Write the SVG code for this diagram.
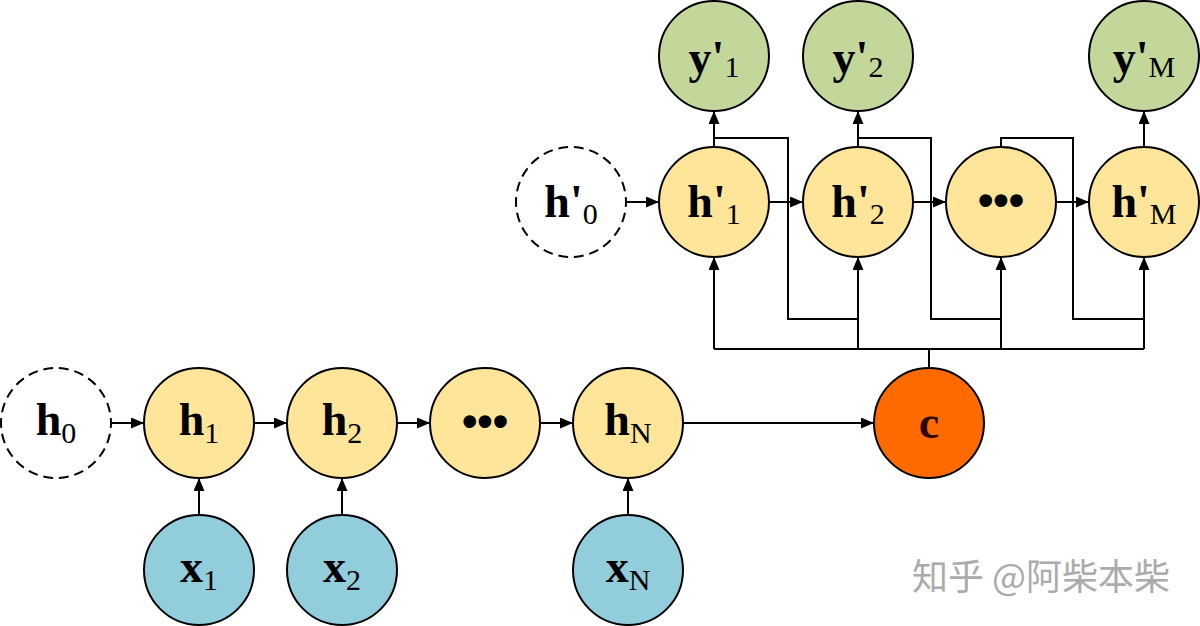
<svg xmlns="http://www.w3.org/2000/svg" width="1200" height="626" viewBox="0 0 1200 626">
<defs>
<marker id="arr" markerWidth="14" markerHeight="12" refX="13" refY="5.5" orient="auto" markerUnits="userSpaceOnUse">
<path d="M0,0 L13,5.5 L0,11 z" fill="#000"/>
</marker>
<style>
.n circle{stroke:#000;stroke-width:2}
.yl{fill:#fee599}
.gr{fill:#c4d79b}
.bl{fill:#92cddc}
.or{fill:#ff6a00}
.ds{fill:#fff;stroke-dasharray:10 6;stroke-dashoffset:5}
.t{font-family:"Liberation Serif",serif;font-weight:bold;font-size:46px;fill:#000;text-anchor:middle}
.s{font-weight:normal;font-size:30px}
.dots{font-family:"Liberation Sans",sans-serif;font-weight:bold;font-size:44px;text-anchor:middle;fill:#000}
.c line,.c path{stroke:#000;stroke-width:2;fill:none}
.wm{font-family:"Noto Sans CJK SC",sans-serif;font-size:36px;fill:#ababab}
</style>
</defs>
<rect width="1200" height="626" fill="#fff"/>
<g id="connectors" class="c">
<line x1="110" y1="423" x2="144" y2="423" marker-end="url(#arr)"/>
<line x1="254" y1="423" x2="287" y2="423" marker-end="url(#arr)"/>
<line x1="397" y1="423" x2="430" y2="423" marker-end="url(#arr)"/>
<line x1="540" y1="423" x2="573" y2="423" marker-end="url(#arr)"/>
<line x1="683" y1="423" x2="874" y2="423" marker-end="url(#arr)"/>
<line x1="199" y1="515" x2="199" y2="478" marker-end="url(#arr)"/>
<line x1="342" y1="515" x2="342" y2="478" marker-end="url(#arr)"/>
<line x1="628" y1="515" x2="628" y2="478" marker-end="url(#arr)"/>
<line x1="627" y1="202" x2="659" y2="202" marker-end="url(#arr)"/>
<line x1="769" y1="202" x2="803" y2="202" marker-end="url(#arr)"/>
<line x1="913" y1="202" x2="946" y2="202" marker-end="url(#arr)"/>
<line x1="1056" y1="202" x2="1089" y2="202" marker-end="url(#arr)"/>
<line x1="714" y1="147" x2="714" y2="111" marker-end="url(#arr)"/>
<line x1="858" y1="147" x2="858" y2="111" marker-end="url(#arr)"/>
<line x1="1144" y1="147" x2="1144" y2="111" marker-end="url(#arr)"/>
<path d="M714,138 H788 V319 H858"/>
<path d="M858,138 H931 V319 H1001"/>
<path d="M1001,147 V138 H1073 V319 H1144"/>
<path d="M929,368 V349"/>
<path d="M714,349 H1144"/>
<line x1="714" y1="349" x2="714" y2="257" marker-end="url(#arr)"/>
<line x1="858" y1="349" x2="858" y2="257" marker-end="url(#arr)"/>
<line x1="1001" y1="349" x2="1001" y2="257" marker-end="url(#arr)"/>
<line x1="1144" y1="349" x2="1144" y2="257" marker-end="url(#arr)"/>
</g>
<g id="h0" class="n"><circle class="ds" cx="56" cy="423" r="55" pathLength="352"/><text class="t" x="56" y="435">h<tspan class="s" dy="8">0</tspan></text></g>
<g id="h1" class="n"><circle class="yl" cx="199" cy="423" r="55"/><text class="t" x="199" y="435">h<tspan class="s" dy="8">1</tspan></text></g>
<g id="h2" class="n"><circle class="yl" cx="342" cy="423" r="55"/><text class="t" x="342" y="435">h<tspan class="s" dy="8">2</tspan></text></g>
<g id="hdots" class="n"><circle class="yl" cx="485" cy="423" r="55"/><text class="dots" x="485" y="436">•••</text></g>
<g id="hN" class="n"><circle class="yl" cx="628" cy="423" r="55"/><text class="t" x="628" y="435">h<tspan class="s" dy="8">N</tspan></text></g>
<g id="x1" class="n"><circle class="bl" cx="199" cy="570" r="55"/><text class="t" x="199" y="582">x<tspan class="s" dy="8">1</tspan></text></g>
<g id="x2" class="n"><circle class="bl" cx="342" cy="570" r="55"/><text class="t" x="342" y="582">x<tspan class="s" dy="8">2</tspan></text></g>
<g id="xN" class="n"><circle class="bl" cx="628" cy="570" r="55"/><text class="t" x="628" y="582">x<tspan class="s" dy="8">N</tspan></text></g>
<g id="c" class="n"><circle class="or" cx="929" cy="423" r="55"/><text class="t" x="929" y="438" style="fill:#2a0800">c</text></g>
<g id="hp0" class="n"><circle class="ds" cx="571" cy="202" r="55" pathLength="352"/><text class="t" x="571" y="217">h'<tspan class="s" dy="7">0</tspan></text></g>
<g id="hp1" class="n"><circle class="yl" cx="714" cy="202" r="55"/><text class="t" x="714" y="217">h'<tspan class="s" dy="7">1</tspan></text></g>
<g id="hp2" class="n"><circle class="yl" cx="858" cy="202" r="55"/><text class="t" x="858" y="217">h'<tspan class="s" dy="7">2</tspan></text></g>
<g id="hpdots" class="n"><circle class="yl" cx="1001" cy="202" r="55"/><text class="dots" x="1001" y="215">•••</text></g>
<g id="hpM" class="n"><circle class="yl" cx="1144" cy="202" r="55"/><text class="t" x="1144" y="217">h'<tspan class="s" dy="7">M</tspan></text></g>
<g id="yp1" class="n"><circle class="gr" cx="714" cy="56" r="55"/><text class="t" x="714" y="73">y'<tspan class="s" dy="4">1</tspan></text></g>
<g id="yp2" class="n"><circle class="gr" cx="858" cy="56" r="55"/><text class="t" x="858" y="73">y'<tspan class="s" dy="4">2</tspan></text></g>
<g id="ypM" class="n"><circle class="gr" cx="1144" cy="56" r="55"/><text class="t" x="1144" y="73">y'<tspan class="s" dy="4">M</tspan></text></g>
<text class="wm" x="912" y="590">知乎 @阿柴本柴</text>
</svg>
